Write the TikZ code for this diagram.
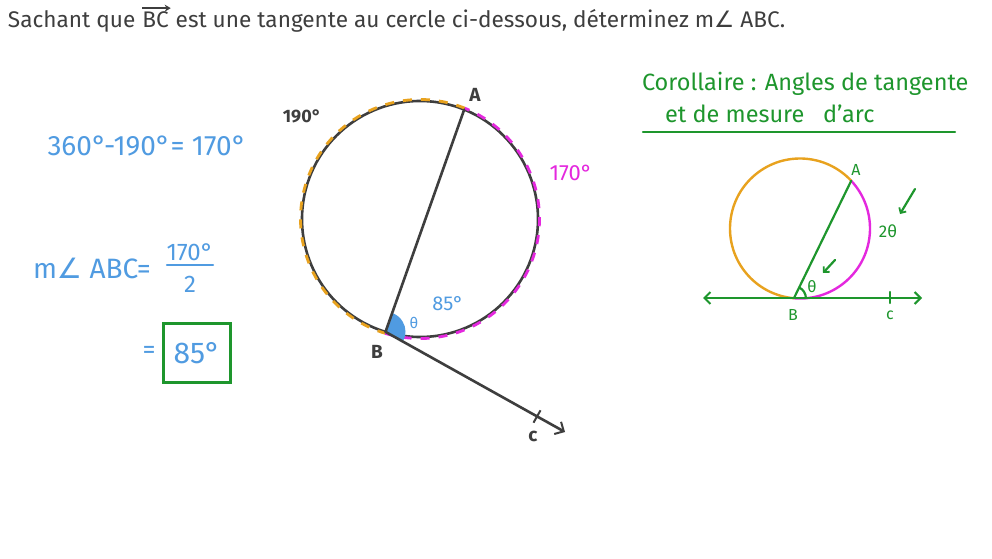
\documentclass[tikz,border=0pt]{standalone}
\usepackage{fontspec}
\setmainfont{Fira Sans}
\newfontfamily\symfont{DejaVu Sans}
\usetikzlibrary{arrows.meta,calc}
\definecolor{ink}{RGB}{62,62,62}
\definecolor{hblue}{RGB}{80,155,225}
\definecolor{hgreen}{RGB}{30,150,45}
\definecolor{horange}{RGB}{232,162,30}
\definecolor{hmag}{RGB}{228,40,222}
\tikzset{
  txt/.style={inner sep=0pt, outer sep=0pt},
  inkline/.style={draw=ink, line width=2.6pt, line cap=round},
  greenline/.style={draw=hgreen, line width=2.2pt, line cap=round},
  barb/.style={-{Straight Barb[length=7pt,width=14pt,line width=2pt]}},
  dashorange/.style={draw=horange, line width=2.8pt, dash pattern=on 9pt off 9pt},
  dashmag/.style={draw=hmag, line width=2.8pt, dash pattern=on 9pt off 9pt},
}
\begin{document}
\begin{tikzpicture}[x=1pt,y=1pt]
\useasboundingbox (0,0) rectangle (992,558);
\fill[white] (0,0) rectangle (992,558);

% ---------- heading ----------
\node[txt, anchor=base west, text=ink, font=\fontsize{22.6}{26}\selectfont] (h1) at (8,530) {Sachant que};
\node[txt, anchor=base west, text=ink, font=\fontsize{22.6}{26}\selectfont] (h2) at ($(h1.base east)+(7,0)$) {BC};
\draw[ink, line width=1.8pt, -{Stealth[length=6pt,width=7pt]}] ($(h2.north west)+(0,4)$) -- ($(h2.north east)+(2,4)$);
\node[txt, anchor=base west, text=ink, font=\fontsize{22.6}{26}\selectfont] (h3) at ($(h2.base east)+(7,0)$) {est une tangente au cercle ci-dessous, déterminez m{\symfont ∠} ABC.};

% ---------- main figure ----------
\coordinate (O) at (420,339);
\coordinate (A) at ($(O)+(68:118)$);
\coordinate (B) at ($(O)+(-107:118)$);
\coordinate (Cend) at (565,126);
\coordinate (Ct) at (537,141.5);
\draw[inkline] (O) circle (118);
\draw[dashorange] ($(O)+(68:119.5)$) arc[start angle=68, end angle=253, radius=119.5];
\draw[dashmag] ($(O)+(-107:119.5)$) arc[start angle=-107, end angle=68, radius=119.5];
\fill[hblue] (B) -- ++(-29.2:20) arc[start angle=-29.2, end angle=70.5, radius=20] -- cycle;
\draw[inkline] (A) -- (B);
\draw[inkline, barb] (B) -- (Cend);
\draw[ink, line width=2pt] ($(Ct)+(3.5,6.2)$) -- ($(Ct)+(-3.5,-6.2)$);

\node[txt, text=ink, font=\bfseries\fontsize{19}{22}\selectfont] (lA) at (475,463) {A};
\node[txt, text=ink, font=\bfseries\fontsize{19}{22}\selectfont] (lB) at (377,206) {B};
\node[txt, text=ink, font=\bfseries\fontsize{19}{22}\selectfont] (lC) at (533,122) {c};
\node[txt, text=ink, font=\bfseries\fontsize{18}{22}\selectfont] (l190) at (302,442) {190°};
\node[txt, text=hmag, font=\fontsize{22}{24}\selectfont] (l170) at (571,385) {170°};
\node[txt, text=hblue, font=\fontsize{15}{18}\selectfont] (lth) at (414,235) {θ};
\node[txt, text=hblue, font=\fontsize{20}{22}\selectfont] (l85) at (448,254) {85°};

% ---------- left calculations ----------
\node[txt, text=hblue, font=\fontsize{28}{30}\selectfont] (eq1) at (147,412) {360°-190°= 170°};
\node[txt, text=hblue, font=\fontsize{28}{30}\selectfont, anchor=west] (eq2) at (33,290) {m{\symfont ∠} ABC=};
\node[txt, text=hblue, font=\fontsize{24}{26}\selectfont] (num) at (190,306) {170°};
\node[txt, text=hblue, font=\fontsize{24}{26}\selectfont] (den) at (190,274) {2};
\draw[hblue, line width=2.4pt, line cap=round] (167,293) -- (213,293);
\node[txt, text=hblue, font=\fontsize{26}{28}\selectfont] (eq3) at (149,206) {=};
\node[draw=hgreen, line width=2.8pt, minimum width=67pt, minimum height=59pt, inner sep=0pt,
      text=hblue, font=\fontsize{30}{32}\selectfont] (res) at (197,205) {85°};

% ---------- corollary ----------
\node[txt, text=hgreen, font=\fontsize{23.5}{26}\selectfont, anchor=west] (t1) at (642,474) {Corollaire : Angles de tangente};
\node[txt, text=hgreen, font=\fontsize{23.5}{26}\selectfont, anchor=west] (t2) at (665,444) {et de mesure\ \ \ d'arc};
\draw[greenline] (643,426) -- (955,426);

\coordinate (o) at (800,329.5);
\coordinate (a) at ($(o)+(43:70)$);
\coordinate (b) at ($(o)+(-95:70)$);
\coordinate (Lend) at (703,260);
\coordinate (Rend) at (922,260);
\coordinate (ct) at (890,260);
\draw[draw=horange, line width=2.4pt] (a) arc[start angle=43, end angle=265, radius=70];
\draw[draw=hmag, line width=2.4pt] (b) arc[start angle=-95, end angle=43, radius=70];
\draw[greenline] (a) -- (b);
\draw[greenline, {Straight Barb[length=6pt,width=12pt,line width=2pt]}-{Straight Barb[length=6pt,width=12pt,line width=2pt]}] (Lend) -- (Rend);
\draw[greenline] ($(ct)+(0,6)$) -- ($(ct)+(0,-5)$);
\draw[greenline] ($(b)+(12,0)$) arc[start angle=0, end angle=64, radius=12];
\draw[greenline, -{Straight Barb[length=4pt,width=8pt,line width=1.8pt]}] (915,369) -- (900,344);
\draw[greenline, -{Straight Barb[length=4pt,width=8pt,line width=1.8pt]}] (835,298) -- (823,285);

\node[txt, text=hgreen, font=\fontsize{16}{18}\selectfont] (sA) at (856,388) {A};
\node[txt, text=hgreen, font=\fontsize{16}{18}\selectfont] (sB) at (793,243) {B};
\node[txt, text=hgreen, font=\fontsize{16}{18}\selectfont] (sC) at (890,243) {c};
\node[txt, text=hgreen, font=\fontsize{17}{18}\selectfont] (s2t) at (888,327) {2θ};
\node[txt, text=hgreen, font=\fontsize{16}{18}\selectfont] (sth) at (812,271) {θ};
\end{tikzpicture}
\end{document}
